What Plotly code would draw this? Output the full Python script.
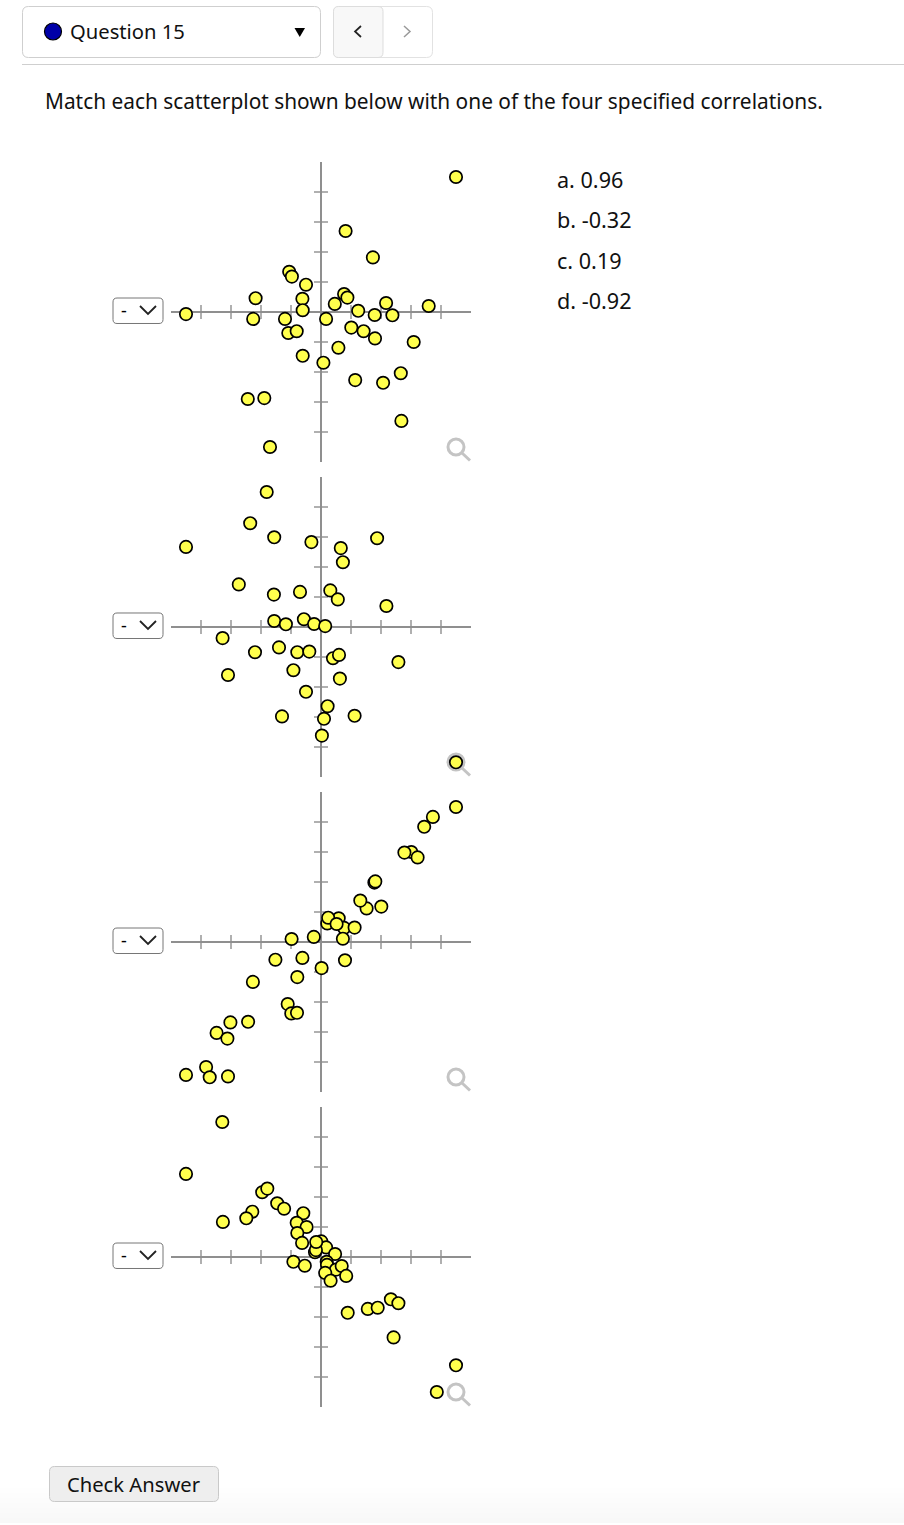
import plotly.graph_objects as go

# ---- data (axis units) ----
x1 = [4.5,0.82,1.73,-1.06,-0.97,-0.5,-2.18,-0.62,0.77,0.88,0.46,2.17,3.59,-4.5,-0.61,1.24,1.79,2.38,-2.26,-1.2,0.17,1.01,1.42,-1.09,-0.81,1.8,3.09,0.58,-0.61,0.08,2.66,1.14,2.07,-2.44,-1.89,2.68,-1.7]
y1 = [4.5,2.7,1.82,1.34,1.18,0.91,0.46,0.44,0.6,0.48,0.27,0.3,0.2,-0.07,0.06,0.04,-0.1,-0.11,-0.23,-0.23,-0.23,-0.52,-0.64,-0.7,-0.64,-0.88,-1.0,-1.19,-1.46,-1.69,-2.04,-2.27,-2.36,-2.9,-2.87,-3.63,-4.5]
x2 = [-1.81,-2.36,-1.56,-0.32,0.66,1.87,-4.5,0.73,-2.74,-1.57,-0.7,0.31,0.56,2.18,-1.56,-1.17,-0.57,-0.23,0.14,-3.28,-2.2,-1.4,-0.79,-0.39,0.4,0.6,2.58,-3.1,-0.92,0.63,-0.5,0.22,-1.3,0.1,1.12,0.03,4.5]
y2 = [4.5,3.46,2.99,2.83,2.63,2.96,2.67,2.16,1.42,1.08,1.17,1.22,0.92,0.7,0.2,0.09,0.26,0.1,0.03,-0.37,-0.84,-0.68,-0.84,-0.82,-1.04,-0.93,-1.17,-1.6,-1.44,-1.72,-2.16,-2.64,-2.98,-3.06,-2.96,-3.62,-4.51]
x3 = [4.5,3.73,3.44,3.01,2.78,3.22,1.78,1.81,1.52,1.31,2.01,0.59,0.21,0.24,0.77,0.52,1.12,0.73,-0.24,-0.98,-1.52,-0.62,0.02,0.8,-0.79,-2.27,-1.11,-0.99,-0.8,-3.02,-2.43,-3.48,-3.12,-3.83,-4.5,-3.71,-3.1]
y3 = [4.5,4.17,3.84,3.0,2.98,2.82,1.98,2.02,1.12,1.38,1.18,0.79,0.62,0.81,0.47,0.6,0.48,0.11,0.17,0.1,-0.59,-0.53,-0.87,-0.61,-1.17,-1.33,-2.07,-2.38,-2.36,-2.68,-2.66,-3.03,-3.22,-4.17,-4.43,-4.51,-4.48]
x4 = [-3.29,-4.5,-3.27,-1.96,-1.79,-2.29,-2.49,-1.46,-1.23,-0.59,-0.81,-0.48,-0.79,-0.63,-0.92,-0.54,-0.2,0.01,0.17,-0.17,-0.16,0.47,0.19,0.2,0.5,0.69,0.14,0.84,0.32,0.89,1.56,1.89,2.33,2.58,2.42,4.5,3.86]
y4 = [4.5,2.77,1.17,2.16,2.28,1.51,1.29,1.79,1.61,1.46,1.14,1.0,0.8,0.47,-0.16,-0.29,0.16,0.52,0.32,0.23,0.5,0.1,-0.16,-0.26,-0.42,-0.3,-0.53,-0.63,-0.79,-1.86,-1.73,-1.69,-1.41,-1.54,-2.68,-3.61,-4.5]
series = [(x1, y1), (x2, y2), (x3, y3), (x4, y4)]
axis_ticks = [-4, -3, -2, -1, 0, 1, 2, 3, 4]
answers = ["a. 0.96", "b. -0.32", "c. 0.19", "d. -0.92"]
question = "Match each scatterplot shown below with one of the four specified correlations."

W, H = 904, 1525
FONT = "Noto Sans"
GREY = "#8f8f8f"
PANEL_LEFT, PANEL_SIZE = 171, 300
PANEL_TOPS = [162, 477, 792, 1107]

def fx(p): return p / W
def fy(p): return 1 - p / H

def rrect(x0, y0, x1_, y1_, r=4, fill="#ffffff", line="#cccccc", lw=1, layer="below"):
    xs = lambda v: f"{fx(v):.6f}"
    ys = lambda v: f"{fy(v):.6f}"
    path = (f"M{xs(x0+r)},{ys(y0)} L{xs(x1_-r)},{ys(y0)} Q{xs(x1_)},{ys(y0)} {xs(x1_)},{ys(y0+r)} "
            f"L{xs(x1_)},{ys(y1_-r)} Q{xs(x1_)},{ys(y1_)} {xs(x1_-r)},{ys(y1_)} "
            f"L{xs(x0+r)},{ys(y1_)} Q{xs(x0)},{ys(y1_)} {xs(x0)},{ys(y1_-r)} "
            f"L{xs(x0)},{ys(y0+r)} Q{xs(x0)},{ys(y0)} {xs(x0+r)},{ys(y0)} Z")
    return dict(type="path", xref="paper", yref="paper", path=path, fillcolor=fill,
                line=dict(color=line, width=lw), layer=layer)

def poly(pts, color="#222222", lw=2, fill=None, closed=False, layer="above"):
    path = "M" + " L".join(f"{fx(a):.6f},{fy(b):.6f}" for a, b in pts) + (" Z" if closed else "")
    return dict(type="path", xref="paper", yref="paper", path=path,
                line=dict(color=color, width=lw), fillcolor=fill or "rgba(0,0,0,0)", layer=layer)

def circle(cx, cy, r, color, lw, fill="rgba(0,0,0,0)", layer="below"):
    return dict(type="circle", xref="paper", yref="paper", x0=fx(cx-r), x1=fx(cx+r),
                y0=fy(cy+r), y1=fy(cy-r), line=dict(color=color, width=lw), fillcolor=fill, layer=layer)

def label(text, x, y, size, color="#111111", anchor="left"):
    return dict(text=text, x=fx(x), y=fy(y), xref="paper", yref="paper", showarrow=False,
                xanchor=anchor, yanchor="middle", font=dict(family=FONT, size=size, color=color))

fig = go.Figure()
shapes, annos = [], []
layout = {}

# bottom page gradient
for i, c in enumerate(["#fefefe", "#fdfdfd", "#fcfcfc", "#fbfbfb", "#fafafa", "#f9f9f9", "#f8f8f8"]):
    y0 = 1488 + i * 5
    shapes.append(dict(type="rect", xref="paper", yref="paper", x0=0, x1=1, y0=fy(y0+5), y1=fy(y0),
                       line=dict(width=0), fillcolor=c, layer="below"))

for i, (xs_, ys_) in enumerate(series):
    n = "" if i == 0 else str(i + 1)
    top = PANEL_TOPS[i]
    layout[f"xaxis{n}"] = dict(domain=[fx(PANEL_LEFT), fx(PANEL_LEFT + PANEL_SIZE)], range=[-5, 5], anchor=f"y{n}",
                               showgrid=False, showticklabels=False, ticks="", showline=False,
                               zeroline=True, zerolinecolor=GREY, zerolinewidth=2, fixedrange=True)
    layout[f"yaxis{n}"] = dict(domain=[fy(top + PANEL_SIZE), fy(top)], range=[-5, 5], anchor=f"x{n}",
                               showgrid=False, showticklabels=False, ticks="", showline=False,
                               zeroline=True, zerolinecolor=GREY, zerolinewidth=2, fixedrange=True)
    tick_style = dict(color=GREY, size=10, line=dict(color=GREY, width=1.4))
    fig.add_trace(go.Scatter(x=axis_ticks, y=[0] * len(axis_ticks), mode="markers", xaxis=f"x{n}", yaxis=f"y{n}",
                             marker=dict(symbol="line-ns", **tick_style), hoverinfo="skip", showlegend=False))
    fig.add_trace(go.Scatter(x=[0] * len(axis_ticks), y=axis_ticks, mode="markers", xaxis=f"x{n}", yaxis=f"y{n}",
                             marker=dict(symbol="line-ew", **tick_style), hoverinfo="skip", showlegend=False))
    fig.add_trace(go.Scatter(x=xs_, y=ys_, mode="markers", xaxis=f"x{n}", yaxis=f"y{n}", cliponaxis=False,
                             marker=dict(color="#ffff4d", size=12.4, line=dict(color="#000000", width=1.7)),
                             showlegend=False))
    # magnifier icon
    shapes.append(circle(456, top + 285, 8, "#c4c4c4", 3))
    shapes.append(poly([(462, top + 291), (470, top + 298.5)], color="#c4c4c4", lw=3, layer="below"))
    # select box
    cy = top + 149
    shapes.append(rrect(113, cy - 13, 163, cy + 12.5, r=4, fill="#ffffff", line="#767676", lw=1))
    shapes.append(poly([(140, cy - 5), (148, cy + 3), (156, cy - 5)], color="#222222", lw=1.8))
    annos.append(label("-", 119, cy - 1, 18, color="#000000"))

# top controls
shapes.append(rrect(22.5, 6.5, 320.5, 57.5, r=6, line="#cfcfcf"))
shapes.append(circle(53, 31.5, 8.5, "#000000", 1.2, fill="#0000a8", layer="above"))
shapes.append(poly([(294.5, 28), (305, 28), (299.75, 37)], color="#000000", lw=0, fill="#000000", closed=True))
shapes.append(rrect(333.5, 6.5, 432.5, 57.5, r=6, fill="#ffffff", line="#e2e2e2"))
shapes.append(rrect(333.5, 6.5, 383, 57.5, r=5, fill="#f8f8f8", line="#dddddd"))
shapes.append(poly([(361, 26), (355, 31.5), (361, 37)], color="#222222", lw=1.7))
shapes.append(poly([(404, 26), (410, 31.5), (404, 37)], color="#999999", lw=1.5))
shapes.append(dict(type="line", xref="paper", yref="paper", x0=fx(22), x1=1, y0=fy(64.5), y1=fy(64.5),
                   line=dict(color="#cfcfcf", width=1), layer="below"))
annos.append(label("Question 15", 68, 31, 20.2))
annos.append(label(question, 43, 101, 20.87))
for txt, yy in zip(answers, [180, 220, 260.5, 300.5]):
    annos.append(label(txt, 555, yy, 21.6))

# check answer button
shapes.append(rrect(49.5, 1466.5, 218.5, 1501.5, r=5, fill="#eeeeee", line="#c9c9c9"))
annos.append(label("Check Answer", 134, 1483.5, 20.2, anchor="center"))

fig.update_layout(width=W, height=H, margin=dict(l=0, r=0, t=0, b=0), paper_bgcolor="#ffffff",
                  plot_bgcolor="rgba(0,0,0,0)", showlegend=False, shapes=shapes, annotations=annos, **layout)

fig.write_html("out.html", config={"displayModeBar": False},
               post_script="document.body.style.margin='0';document.documentElement.style.overflow='hidden';")
